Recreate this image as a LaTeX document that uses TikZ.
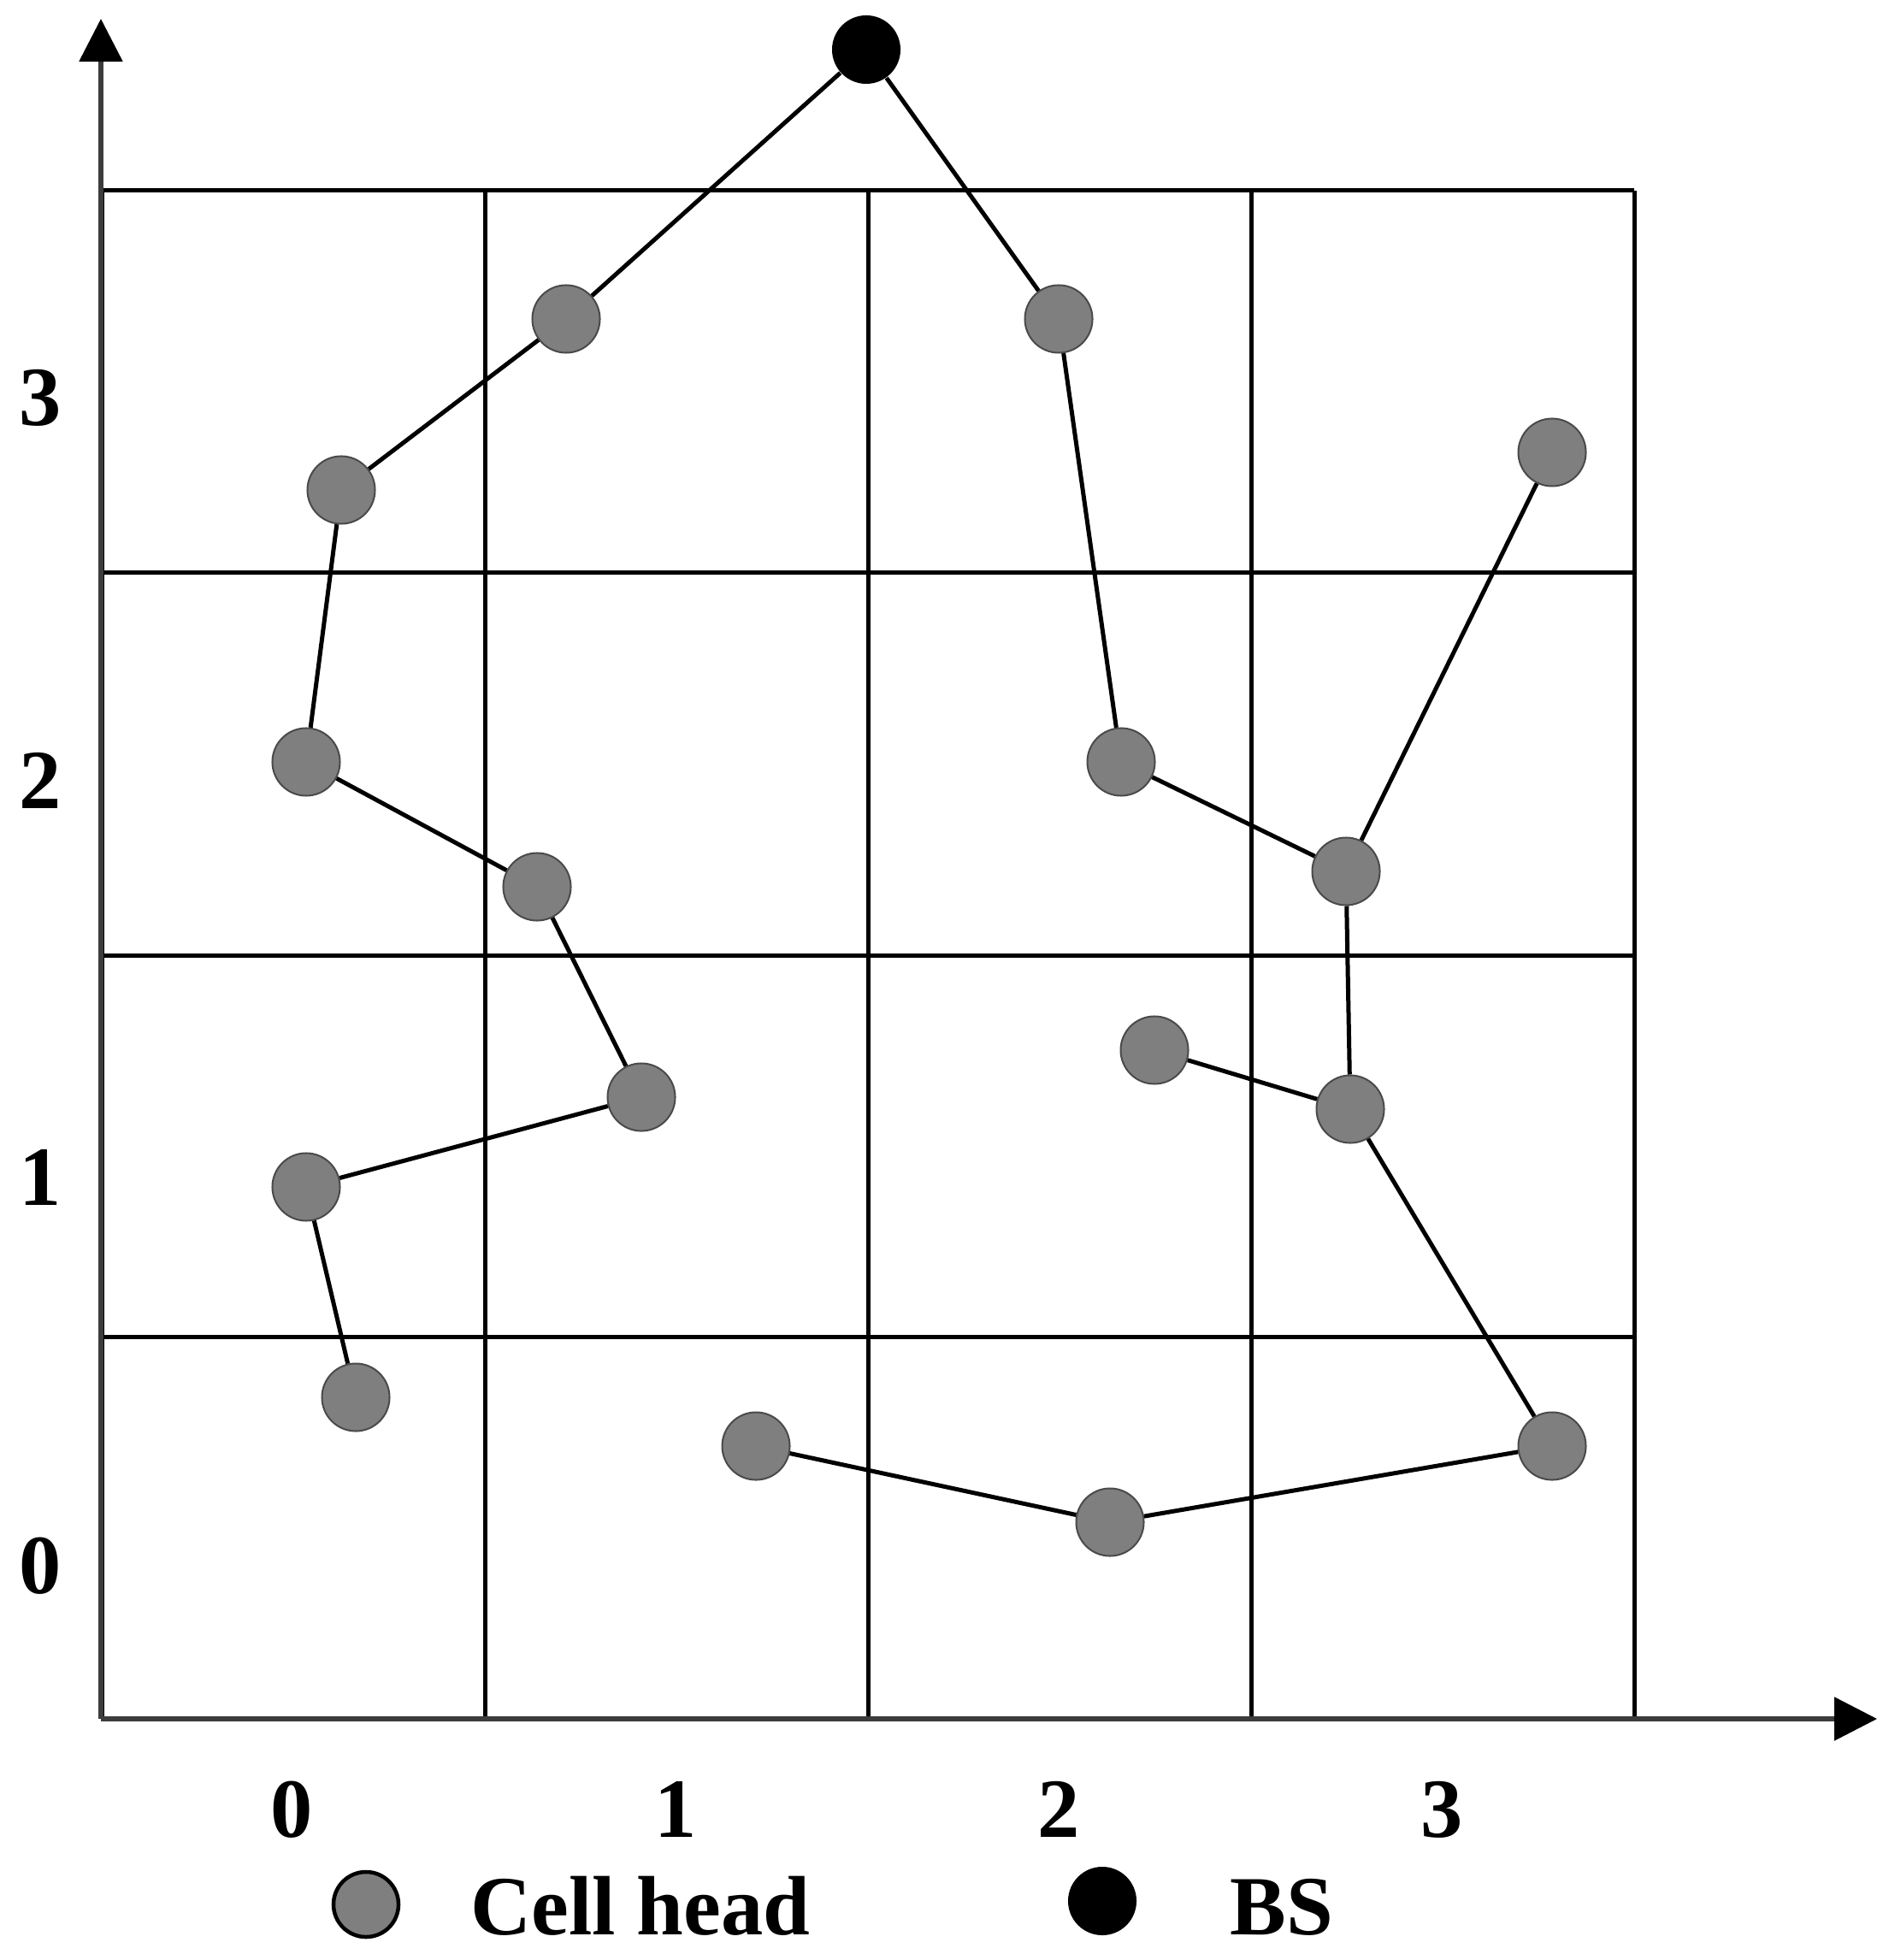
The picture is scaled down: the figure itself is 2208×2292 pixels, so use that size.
\documentclass[tikz,border=0pt]{standalone}
\usepackage{fontspec}
\setmainfont{Liberation Serif}
\usetikzlibrary{arrows.meta}
\definecolor{headgray}{HTML}{7F7F7F}
\definecolor{rimgray}{HTML}{4A4A4A}
\definecolor{axisgray}{HTML}{3C3C3C}
\begin{document}
\begin{tikzpicture}[x=0.01cm,y=-0.01cm,
  gridline/.style={line width=0.05cm,black},
  axisline/.style={line width=0.055cm,axisgray,-{Triangle[length=0.5cm,width=0.5cm,color=black]}},
  link/.style={line width=0.05cm,black},
  head/.style={circle,minimum size=0.79cm,inner sep=0pt,fill=headgray,draw=rimgray,line width=0.02cm},
  bs/.style={circle,minimum size=0.8cm,inner sep=0pt,fill=black},
  lab/.style={font=\bfseries\fontsize{28pt}{34pt}\selectfont,inner sep=0pt}]
\useasboundingbox (0,0) rectangle (2208,2292);
% grid
\foreach \x in {119,567,1015,1463,1911} \draw[gridline] (\x,223) -- (\x,2010);
\foreach \y in {223,670,1117,1563,2010} \draw[gridline] (119,\y) -- (1911,\y);
% axes
\coordinate (o) at (118,2010);
\coordinate (ytip) at (118,22);
\coordinate (xtip) at (2195,2010);
\draw[axisline] (o) -- (ytip);
\draw[axisline] (o) -- (xtip);
% nodes
\node[bs] (bs) at (1013,58) {};
\node[head] (a) at (662,373) {};
\node[head] (b) at (399,573) {};
\node[head] (c) at (358,891) {};
\node[head] (d) at (628,1037) {};
\node[head] (e) at (750,1283) {};
\node[head] (f) at (358,1388) {};
\node[head] (g) at (416,1634) {};
\node[head] (h) at (1238,373) {};
\node[head] (i) at (1311,891) {};
\node[head] (j) at (1574,1019) {};
\node[head] (k) at (1815,529) {};
\node[head] (l) at (1579,1297) {};
\node[head] (m) at (1350,1228) {};
\node[head] (n) at (1815,1691) {};
\node[head] (o2) at (1298,1780) {};
\node[head] (p) at (884,1691) {};
% links
\draw[link] (bs) -- (a) -- (b) -- (c) -- (d) -- (e) -- (f) -- (g);
\draw[link] (bs) -- (h) -- (i) -- (j) -- (k);
\draw[link] (j) -- (l) -- (m);
\draw[link] (l) -- (n) -- (o2) -- (p);
% axis labels
\node[lab] (y3) at (47,465) {3};
\node[lab] (y2) at (47,913) {2};
\node[lab] (y1) at (47,1377) {1};
\node[lab] (y0) at (47,1831) {0};
\node[lab] (x0) at (341,2116) {0};
\node[lab] (x1) at (790,2116) {1};
\node[lab] (x2) at (1238,2116) {2};
\node[lab] (x3) at (1686,2116) {3};
% legend
\node[head,draw=black,line width=0.045cm,minimum size=0.76cm] (lg1) at (428,2227) {};
\node[lab,anchor=base west] (lt1) at (550,2262) {Cell head};
\node[bs] (lg2) at (1289,2223) {};
\node[lab,anchor=base west] (lt2) at (1438,2262) {BS};
\end{tikzpicture}
\end{document}
